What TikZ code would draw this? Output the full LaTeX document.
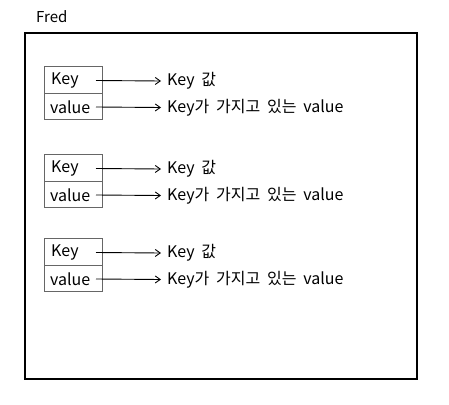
\documentclass[tikz,border=0pt]{standalone}
\usepackage{fontspec}
\setmainfont[WordSpace=1.9]{Noto Sans CJK KR}
\usetikzlibrary{arrows.meta}
\begin{document}
\begin{tikzpicture}[x=1pt,y=-1pt,
  cell/.style={draw=black!60,line width=1.3pt,minimum width=58pt,minimum height=26.5pt,inner sep=0pt,anchor=north west},
  txt/.style={anchor=west,inner sep=0pt,font=\fontsize{16}{18}\selectfont},
  arr/.style={-{Straight Barb[length=5pt,width=7pt]},line width=0.9pt}]
\useasboundingbox (0,0) rectangle (449,404);
\node[txt,font=\fontsize{15}{17}\selectfont] (fred) at (36,17) {Fred};
\draw[line width=2pt] (25,33) rectangle (417,379);
\foreach \i/\t in {1/66,2/154,3/238}{
  \node[cell] (k\i) at (44,\t) {};
  \node[cell] (v\i) at (44,\t+26.5) {};
  \node[txt] (kt\i) at (51,\t+14.5) {Key};
  \node[txt] (vt\i) at (50,\t+41) {value};
  \coordinate (ks\i) at (96,\t+14.5);
  \coordinate (vs\i) at (96,\t+41);
  \node[txt] (kl\i) at (167,\t+15) {Key 값};
  \node[txt] (vl\i) at (167,\t+41.5) {Key가 가지고 있는 value};
  \draw[arr] (ks\i) -- (kl\i.west -| 161,0);
  \draw[arr] (vs\i) -- (vl\i.west -| 161,0);
}
\end{tikzpicture}
\end{document}
